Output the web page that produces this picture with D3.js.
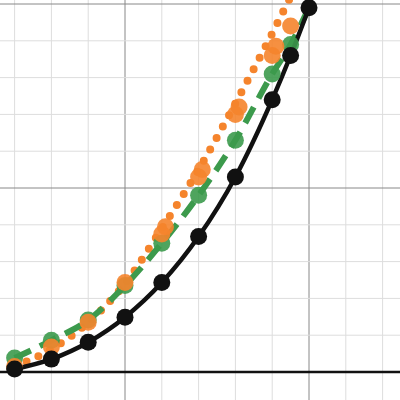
<!DOCTYPE html><html><head><script src="https://cdn.jsdelivr.net/npm/d3@7"></script>
<style>body{margin:0}</style></head><body><svg width="400" height="400"></svg><script>
const xs=[-3,-2,-1,0,1,2,3,4,4.5,5];
const black=[0.08,0.35,0.81,1.49,2.43,3.68,5.3,7.4,8.6,9.9];
const greenX=[-3,-2,-1,0,1,2,3,4,4.5,5];
const green=[0.38,0.86,1.41,2.35,3.5,4.8,6.3,8.1,8.9,9.9];
const orangeX=[-3,-2,-1,0,1,1.1,2,2.1,3,3.1,4,4.1,4.5];
const orange=[0.15,0.68,1.35,2.43,3.75,3.95,5.3,5.5,7.0,7.2,8.6,8.85,9.4];
const orangeLine=[[-3,0.15],[-2,0.62],[-1,1.35],[0,2.4],[1,3.9],[2,5.5],[3,7.3],[4,9.2],[4.5,10.2]];
const svg=d3.select("svg");
const U=36.8;
const x=d3.scaleLinear().domain([-125/U,275/U]).range([0,400]);
const y=d3.scaleLinear().domain([-28/U,372/U]).range([400,0]);
for(let i=-4;i<=8;i++){svg.append("line").attr("x1",x(i)).attr("x2",x(i)).attr("y1",0).attr("y2",400).attr("stroke",i%5==0?"#888":"#ddd").attr("stroke-width",1);}
for(let i=-1;i<=11;i++){svg.append("line").attr("y1",y(i)).attr("y2",y(i)).attr("x1",0).attr("x2",400).attr("stroke",i==0?"#111":(i%5==0?"#888":"#ddd")).attr("stroke-width",i==0?2.5:1);}
const line=d3.line().x(d=>x(d[0])).y(d=>y(d[1])).curve(d3.curveMonotoneX);
svg.append("path").attr("d",line(orangeLine)).attr("fill","none").attr("stroke","#f5842c").attr("stroke-width",8).attr("stroke-linecap","round").attr("stroke-dasharray","0 13");
svg.append("path").attr("d",line(greenX.map((v,i)=>[v,green[i]]))).attr("fill","none").attr("stroke","#3c9a4c").attr("stroke-width",6).attr("stroke-dasharray","18 10");
svg.append("path").attr("d",line(xs.map((v,i)=>[v,black[i]]))).attr("fill","none").attr("stroke","#111").attr("stroke-width",4.5);
svg.selectAll(".g").data(greenX.slice(0,9)).join("circle").attr("cx",d=>x(d)).attr("cy",(d,i)=>y(green[i])).attr("r",8.5).attr("fill","#3c9a4c").attr("opacity",0.9);
svg.selectAll(".o").data(orangeX).join("circle").attr("cx",d=>x(d)).attr("cy",(d,i)=>y(orange[i])).attr("r",8.5).attr("fill","#f5842c").attr("opacity",0.9);
svg.selectAll(".b").data(xs).join("circle").attr("cx",d=>x(d)).attr("cy",(d,i)=>y(black[i])).attr("r",8.5).attr("fill","#111");
</script></body></html>
